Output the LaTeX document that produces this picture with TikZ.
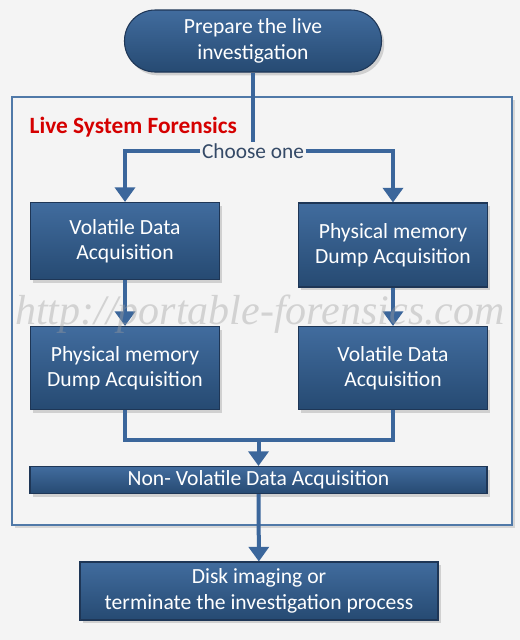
\documentclass[tikz,border=0pt]{standalone}
\usepackage{fontspec}
\setmainfont{Carlito}
\newfontfamily\markfont{Liberation Serif}
\usepackage{xcolor}
\usetikzlibrary{arrows.meta,positioning,calc,shadows}

\definecolor{pagebg}{HTML}{F4F4F4}
\definecolor{boxtop}{HTML}{416C9E}
\definecolor{boxbot}{HTML}{264A72}
\definecolor{boxedge}{HTML}{1E3656}
\definecolor{flowblue}{HTML}{3B669B}
\definecolor{frameblue}{HTML}{5079A8}
\definecolor{titlered}{HTML}{D50000}

\tikzset{
  stagebox/.style={draw=boxedge,line width=0.8pt,top color=boxtop,bottom color=boxbot,
    text=white,align=center,inner sep=2pt,
    font=\fontsize{16.2}{19}\selectfont,
    drop shadow={opacity=0.3,shadow xshift=2pt,shadow yshift=-2.5pt}},
  flow/.style={draw=flowblue,line width=3pt,-{Triangle[width=15pt,length=11pt]}},
  link/.style={draw=flowblue,line width=3pt}
}

\begin{document}
\begin{tikzpicture}[x=0.75pt,y=-0.75pt]
  % page
  \fill[pagebg] (0,0) rectangle (520,640);
  \useasboundingbox (0,0) rectangle (520,640);
  % live system frame
  \draw[frameblue,line width=1.3pt,fill=pagebg,
    drop shadow={opacity=0.25,shadow xshift=2pt,shadow yshift=-2.5pt}] (12,97) rectangle (512,525);
  \node[anchor=west,text=titlered,font=\fontsize{17.5}{20}\selectfont\bfseries] (title) at (25,127) {Live System Forensics};
  % start
  \node[stagebox,rounded corners=23pt,minimum width=192.75pt,minimum height=46.5pt] (start) at (253,41)
    {Prepare the live\\investigation};
  \node[inner sep=1pt,font=\fontsize{16}{18}\selectfont,text=boxedge!90] (choose) at (253,151) {Choose one};
  % two paths
  \node[stagebox,minimum width=141.75pt,minimum height=57.75pt] (vol1) at (125,241) {Volatile Data\\Acquisition};
  \node[stagebox,minimum width=141.75pt,minimum height=63pt] (phys1) at (393,245) {Physical memory\\Dump Acquisition};
  \node[stagebox,minimum width=141.75pt,minimum height=62.25pt] (phys2) at (125,368) {Physical memory\\Dump Acquisition};
  \node[stagebox,minimum width=141.75pt,minimum height=62.25pt] (vol2) at (393,368) {Volatile Data\\Acquisition};
  % non volatile
  \node[stagebox,minimum width=342.75pt,minimum height=20.25pt,inner sep=0pt] (nvda) at (258.5,480) {Non- Volatile Data Acquisition};
  % end
  \node[stagebox,minimum width=268.5pt,minimum height=43.5pt] (disk) at (259,591)
    {Disk imaging or\\terminate the investigation process};
  % connectors
  \coordinate (merge) at (258.5,440);
  \draw[link] (start) -- (choose);
  \draw[flow] (choose.west) -| (vol1.north);
  \draw[flow] (choose.east) -| (phys1.north);
  \draw[flow] (vol1) -- (phys2);
  \draw[flow] (phys1) -- (vol2);
  \draw[link,line join=miter] (phys2.south) |- (merge) -| (vol2.south);
  \draw[flow] (merge) -- (nvda);
  \draw[flow] (nvda) -- (disk);
  % watermark
  \node[text=gray!75,opacity=0.4,font=\markfont\itshape\fontsize{31.5}{38}\selectfont] (mark) at (260,314)
    {http://portable-forensics.com};
\end{tikzpicture}
\end{document}
